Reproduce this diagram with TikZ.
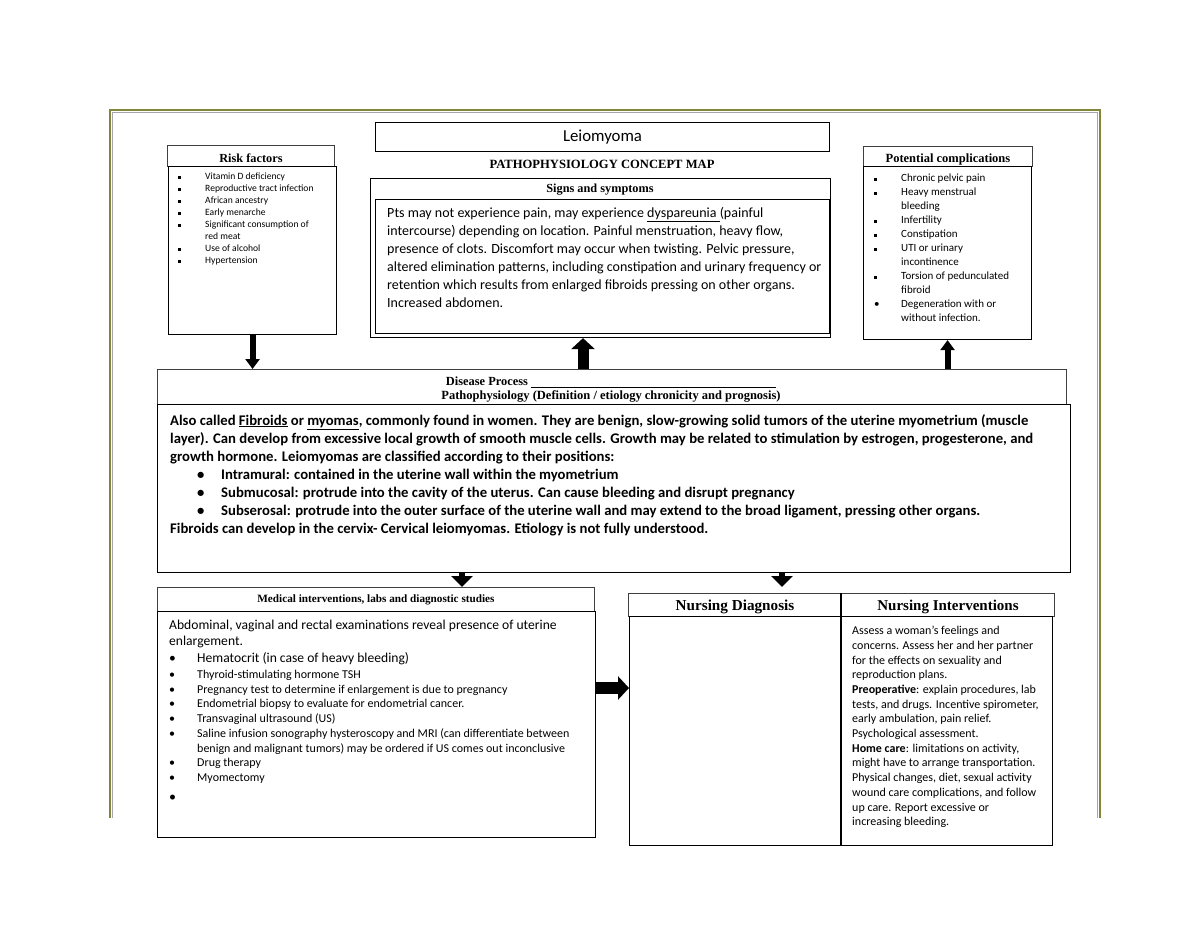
\documentclass[tikz,border=0pt]{standalone}
\usepackage{fontspec}
\setmainfont{Carlito}
\newfontfamily\tnr{Liberation Serif}
\usepackage{xcolor}
\usetikzlibrary{positioning,arrows.meta}
\definecolor{frameolive}{RGB}{130,134,58}
\definecolor{framegray}{RGB}{165,165,175}
\newlength\bltw
\newcommand{\sqb}{\makebox[\bltw][l]{\rule[0.2ex]{2.8pt}{2.8pt}}}
\newcommand{\rdb}{\makebox[\bltw][l]{\textbullet}}
\newcommand{\nob}{\makebox[\bltw][l]{}}
\tikzset{
  box/.style={draw=black, line width=1.1pt, inner sep=0pt, anchor=north west},
  headbox/.style={draw=black!75, line width=0.9pt, inner sep=0pt, anchor=north west},
  txt/.style={inner sep=0pt, anchor=north west, align=left},
  hd/.style={inner sep=0pt, font=\tnr\bfseries\fontsize{#1}{#1}\selectfont},
  thinarrow/.style={line width=6pt, -{Triangle[width=14pt,length=10pt]}},
  fatarrow/.style={line width=11pt, -{Triangle[width=23pt,length=11pt]}},
  downtip/.style={line width=6pt, -{Triangle[width=21pt,length=11pt]}}
}
\begin{document}
\begin{tikzpicture}[x=1pt,y=-1pt]
    \useasboundingbox (0,0) rectangle (1200,927);
    % Page frame
    \draw[frameolive, line width=2pt] (110,818) -- (110,110) -- (1100,110) -- (1100,818);
    \draw[framegray, line width=1pt] (112.5,818) -- (112.5,112.5) -- (1097.5,112.5) -- (1097.5,818);

    % Title
    \node[box, minimum width=454pt, minimum height=29pt] (titlebox) at (375,122) {};
    \node[font=\fontsize{16.8}{18}\selectfont] (title) at (titlebox.center) {Leiomyoma};
    \node[hd=12.6] (maptitle) at (602,164) {PATHOPHYSIOLOGY CONCEPT MAP};

    % Risk factors
    \node[headbox, minimum width=167pt, minimum height=21pt] (riskhead) at (167,145) {};
    \node[box, minimum width=168pt, minimum height=168pt] (riskbody) at (168,166) {};
    \node[hd=12.3] (risktitle) at ([yshift=-2pt]riskhead.center) {Risk factors};
    \node[txt, font=\fontsize{9.6}{12}\selectfont] (risklist) at (178,173) {\global\bltw=27pt%
      \sqb Vitamin D deficiency\\
      \sqb Reproductive tract infection\\
      \sqb African ancestry\\
      \sqb Early menarche\\
      \sqb Significant consumption of\\
      \nob red meat\\
      \sqb Use of alcohol\\
      \sqb Hypertension};

    % Signs and symptoms
    \node[box, minimum width=460pt, minimum height=159pt] (signs) at (370,178) {};
    \node[box, minimum width=454pt, minimum height=134pt] (signsbody) at (375,199) {};
    \node[hd=12.3] (signstitle) at (600,190) {Signs and symptoms};
    \node[txt, font=\fontsize{14}{18}\selectfont] (signstext) at (387,207) {%
      Pts may not experience pain, may experience \underline{dyspareunia\ }(painful\\
      intercourse) depending on location. Painful menstruation, heavy flow,\\
      presence of clots. Discomfort may occur when twisting. Pelvic pressure,\\
      altered elimination patterns, including constipation and urinary frequency or\\
      retention which results from enlarged fibroids pressing on other organs.\\
      Increased abdomen.};

    % Potential complications
    \node[headbox, minimum width=169pt, minimum height=20pt] (comphead) at (863,146) {};
    \node[box, minimum width=168pt, minimum height=173pt] (compbody) at (863,166) {};
    \node[hd=12.5] (comptitle) at ([yshift=-3pt]comphead.center) {Potential complications};
    \node[txt, font=\fontsize{11}{14}\selectfont] (complist) at (874,174) {\global\bltw=27pt%
      \sqb Chronic pelvic pain\\
      \sqb Heavy menstrual\\
      \nob bleeding\\
      \sqb Infertility\\
      \sqb Constipation\\
      \sqb UTI or urinary\\
      \nob incontinence\\
      \sqb Torsion of pedunculated\\
      \nob fibroid\\
      \rdb Degeneration with or\\
      \nob without infection.};

    % Disease process
    \node[headbox, minimum width=909pt, minimum height=35pt] (dishead) at (157,369) {};
    \node[box, minimum width=913pt, minimum height=168pt] (disbody) at (157,404) {};
    \node[hd=12.4, align=center, font=\tnr\bfseries\fontsize{12.4}{14}\selectfont] (distitle) at (611,390) {%
      Disease Process \underline{\hspace{245pt}}\\
      {\fontsize{12.5}{14}\selectfont Pathophysiology (Definition / etiology chronicity and prognosis)}};
    \node[txt, font=\bfseries\fontsize{14.7}{18}\selectfont] (distext) at (170,414) {\global\bltw=24pt%
      Also called \underline{Fibroids} or \underline{myomas}, commonly found in women. They are benign, slow-growing solid tumors of the uterine myometrium (muscle\\
      layer). Can develop from excessive local growth of smooth muscle cells. Growth may be related to stimulation by estrogen, progesterone, and\\
      growth hormone. Leiomyomas are classified according to their positions:\\
      \hspace*{27pt}\rdb Intramural: contained in the uterine wall within the myometrium\\
      \hspace*{27pt}\rdb Submucosal: protrude into the cavity of the uterus. Can cause bleeding and disrupt pregnancy\\
      \hspace*{27pt}\rdb Subserosal: protrude into the outer surface of the uterine wall and may extend to the broad ligament, pressing other organs.\\
      Fibroids can develop in the cervix- Cervical leiomyomas. Etiology is not fully understood.};

    % Medical interventions
    \node[headbox, minimum width=437pt, minimum height=24pt] (medhead) at (157,587) {};
    \node[box, minimum width=438pt, minimum height=226pt] (medbody) at (157,611) {};
    \node[hd=11.2] (medtitle) at (medhead.center) {Medical interventions, labs and diagnostic studies};
    \node[txt, font=\fontsize{13.6}{16}\selectfont] (medintro) at (169,620) {%
      Abdominal, vaginal and rectal examinations reveal presence of uterine\\
      enlargement.};
    \node[txt, font=\fontsize{13.6}{16}\selectfont] (medhema) at (169,652) {\global\bltw=28pt%
      \rdb Hematocrit (in case of heavy bleeding)};
    \node[txt, font=\fontsize{12}{14.7}\selectfont] (medlist) at (169,670) {\global\bltw=28pt%
      \rdb Thyroid-stimulating hormone TSH\\
      \rdb Pregnancy test to determine if enlargement is due to pregnancy\\
      \rdb Endometrial biopsy to evaluate for endometrial cancer.\\
      \rdb Transvaginal ultrasound (US)\\
      \rdb Saline infusion sonography hysteroscopy and MRI (can differentiate between\\
      \nob benign and malignant tumors) may be ordered if US comes out inconclusive\\
      \rdb Drug therapy\\
      \rdb Myomectomy\\[5pt]
      {\fontsize{14}{14}\selectfont\textbullet}};

    % Nursing table
    \node[headbox, minimum width=426pt, minimum height=23pt] (nurhead) at (628,593) {};
    \node[box, minimum width=423pt, minimum height=229pt] (nurbody) at (629,616) {};
    \coordinate (divx) at (841,0);
    \draw[line width=1.1pt] (nurhead.north -| divx) -- (nurbody.south -| divx);
    \node[hd=15.2] (diagtitle) at (735,607) {Nursing Diagnosis};
    \node[hd=15] (intvtitle) at (948,607) {Nursing Interventions};
    \node[txt, font=\fontsize{12}{14.7}\selectfont] (intvtext) at (852,626) {%
      Assess a woman’s feelings and\\
      concerns. Assess her and her partner\\
      for the effects on sexuality and\\
      reproduction plans.\\
      \textbf{Preoperative}: explain procedures, lab\\
      tests, and drugs. Incentive spirometer,\\
      early ambulation, pain relief.\\
      Psychological assessment.\\
      \textbf{Home care}: limitations on activity,\\
      might have to arrange transportation.\\
      Physical changes, diet, sexual activity\\
      wound care complications, and follow\\
      up care. Report excessive or\\
      increasing bleeding.};

    % Arrows
    \coordinate (sigx) at (583,0);
    \coordinate (lx) at (462,0);
    \coordinate (rx) at (782,0);
    \coordinate (medy) at (0,688);
    \draw[thinarrow] (riskbody.south) -- (riskbody.south |- dishead.north);
    \draw[fatarrow] (dishead.north -| sigx) -- (signs.south -| sigx);
    \draw[thinarrow] (dishead.north -| compbody.south) -- (compbody.south);
    \draw[downtip] (disbody.south -| lx) -- (medhead.north -| lx);
    \draw[downtip] (disbody.south -| rx) -- (medhead.north -| rx);
    \draw[fatarrow, line width=12pt] (medbody.east |- medy) -- (nurbody.west |- medy);
\end{tikzpicture}
\end{document}
